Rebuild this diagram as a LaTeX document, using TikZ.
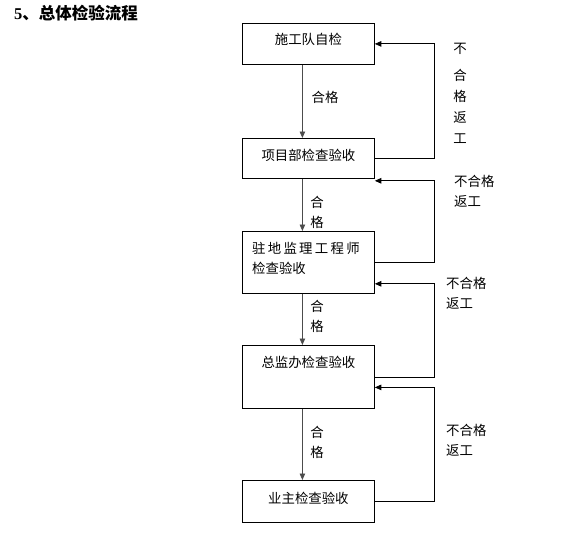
\documentclass[tikz,border=0pt]{standalone}
\usepackage{fontspec}
\setmainfont{Liberation Serif}
\newfontfamily\cjk{Noto Sans CJK SC}
\newfontfamily\cjkwide[LetterSpace=17]{Noto Sans CJK SC}
\usetikzlibrary{arrows.meta,positioning,calc}

\begin{document}
\begin{tikzpicture}[x=1pt,y=-1pt,
  box/.style={draw, line width=0.8pt, anchor=north west, minimum width=132pt, inner sep=0pt},
  txt/.style={font=\cjk\fontsize{13.4}{20}\selectfont, inner sep=0pt},
  flow/.style={line width=0.8pt, -{Triangle[length=6.5pt,width=5.5pt]}}]
\useasboundingbox (0,0) rectangle (564,535);
% Title
\node[anchor=west, inner sep=0pt, font=\fontsize{16.5}{20}\selectfont\bfseries] (title) at (14,13) {5\cjk 、总体检验流程};
% Boxes
\foreach \n/\y/\h in {1/23/41,2/138/40,3/231/62,4/345/63,5/480/42} {
  \node[box, minimum height=\h pt] (b\n) at (242,\y) {};
}
% Box texts
\node[txt] (t1) at ($(b1.north)+(0,16)$) {施工队自检};
\node[txt] (t2) at ($(b2.north)+(0,17)$) {项目部检查验收};
\node[txt, anchor=west, align=left] (t3) at ($(b3.north west)+(10,27)$) {{\cjkwide 驻地监理工程师}\\检查验收};
\node[txt] (t4) at ($(b4.north)+(0,17)$) {总监办检查验收};
\node[txt] (t5) at ($(b5.north)+(0,18)$) {业主检查验收};
% Pass arrows
\foreach \a/\b in {1/2,2/3,3/4,4/5} {
  \draw[flow, draw=black!70] ([xshift=-6pt]b\a.south) -- ([xshift=-6pt]b\b.north);
}
\node[txt] (p1) at (325,97) {合格};
\node[txt, align=center] (p2) at (317,212) {合\\格};
\node[txt, align=center] (p3) at (317,316) {合\\格};
\node[txt, align=center] (p4) at (317,442) {合\\格};
% Return loops
\draw[flow] (b2.east) -- ++(60,0) |- (b1.east);
\draw[flow] (b3.east) -- ++(60,0) |- ([yshift=-2pt]b2.south east);
\draw[flow] (b4.east) -- ++(60,0) |- ([yshift=10pt]b3.south east);
\draw[flow] (b5.east) -- ++(60,0) |- ([yshift=-10.5pt]b4.east);
\node[txt, align=center, font=\cjk\fontsize{13.4}{21}\selectfont] (f1) at (460,93) {不\\[6pt]合\\格\\返\\工};
\node[txt, anchor=west, align=left] (f2) at (454,191) {不合格\\返工};
\node[txt, anchor=west, align=left] (f3) at (446,293) {不合格\\返工};
\node[txt, anchor=west, align=left] (f4) at (446,440) {不合格\\返工};
\end{tikzpicture}
\end{document}
